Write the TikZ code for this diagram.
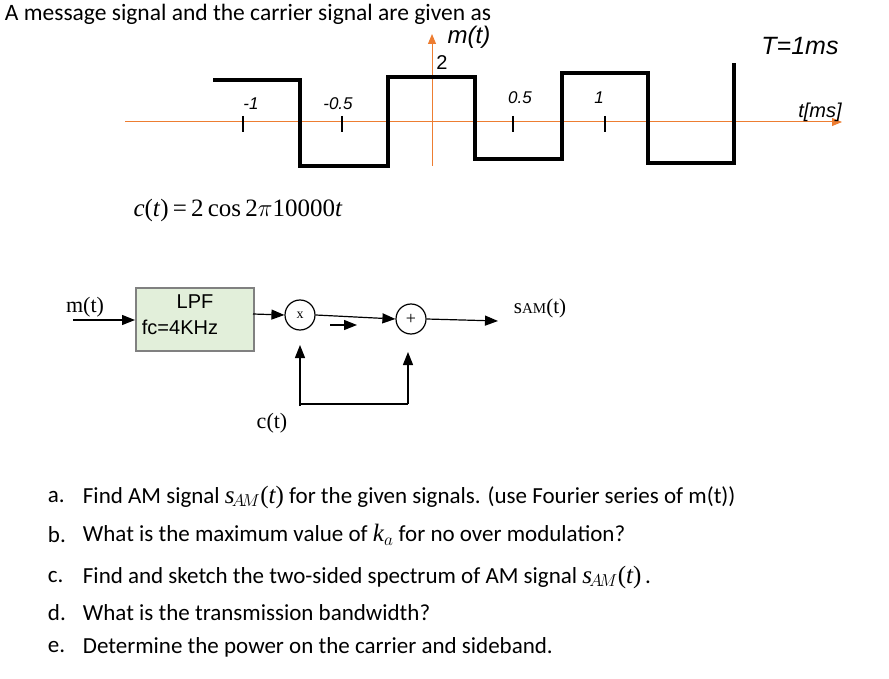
\documentclass[tikz,border=0pt]{standalone}
\usepackage{fontspec}
\setmainfont{Carlito}
\newfontfamily\tms{Liberation Serif}
\newfontfamily\arl{Liberation Sans}
\usetikzlibrary{arrows.meta}
\definecolor{axc}{HTML}{ED7D31}
\definecolor{boxg}{HTML}{E2EFDA}
\newcommand{\fsz}[1]{\fontsize{#1}{#1}\selectfont}
\newcommand{\sam}{{\tms\itshape\fsz{25}s$_{\!\fsz{16}A\!M}$}{\tms\fsz{25}(}{\tms\itshape\fsz{25}t}{\tms\fsz{25})}}
\begin{document}
\begin{tikzpicture}[x=1pt,y=-1pt,line width=1.2pt,
 sig/.style={line width=3.2pt},
 ar/.style={-{Triangle[length=13pt,width=10pt]}},
 sum/.style={circle,draw,line width=1.2pt,minimum size=30pt,inner sep=0pt,font=\tms\fsz{14}},
 q/.style={anchor=west,font=\fsz{23}},
 lab/.style={font=\arl\itshape\fsz{17}}]
\useasboundingbox (0,0) rectangle (889,679);
\node[anchor=west,font=\fsz{23.5}] (title) at (1,14) {A message signal and the carrier signal are given as};
% axes
\coordinate (xa) at (125,122); \coordinate (xb) at (842,122);
\coordinate (ya) at (432,166); \coordinate (yb) at (432,34);
\draw[axc,line width=1pt,-{Triangle[length=10pt,width=8pt]}] (xa) -- (xb);
\draw[axc,line width=1pt,-{Triangle[length=10pt,width=8pt]}] (ya) -- (yb);
\node[lab,font=\arl\itshape\fsz{24}] (mt) at (469,37) {m(t)};
\node[lab,font=\arl\fsz{20}] (two) at (442,63) {2};
\node[lab,font=\arl\itshape\fsz{25}] (T) at (800,46) {T=1ms};
\node[lab,font=\arl\itshape\fsz{20}] (tms) at (820,112) {t[ms]};
\draw[sig] (213,80) -- (300,80) -- (300,166) -- (388,166) -- (388,77) -- (475,77) -- (475,159) -- (562,159) -- (562,73) -- (648,73) -- (648,163) -- (734,163) -- (734,63);
\foreach \x in {243,342,513,605}{\draw (\x,116) -- (\x,132);}
\node[lab] (l1) at (251,104) {-1};
\node[lab] (l2) at (338,104) {-0.5};
\node[lab] (l3) at (520,98) {0.5};
\node[lab] (l4) at (599,98) {1};
\node[font=\tms\fsz{25}] (ct) at (238,210) {{\itshape c}(\textit{t})\,=\,2\,cos\,2$\pi$10000\textit{t}};
% block diagram
\node[font=\tms\fsz{22}] (min) at (85,307) {m(t)};
\coordinate (in) at (73,320);
\node[draw=gray,line width=1.5pt,fill=boxg,minimum width=118pt,minimum height=63pt,anchor=north west] (lpf) at (135,287) {};
\node[font=\arl\fsz{20}] (lpft) at (195,302) {LPF};
\node[font=\arl\fsz{20}] (fc) at (180,327) {fc=4KHz};
\node[sum] (mul) at (300,315) {x};
\node[sum,font=\tms\fsz{18}] (add) at (411,319) {+};
\draw[ar] (in) -- (in -| lpf.west);
\draw[ar] (253,314) -- (mul.west);
\draw[ar] (mul.east) -- (add.west);
\coordinate (sa) at (330,325); \coordinate (sb) at (357,325);
\draw[ar] (sa) -- (sb);
\coordinate (out) at (498,321);
\draw[ar] (add.east) -- (out);
\node[font=\tms\fsz{21}] (sam) at (540,308) {s{\fsz{15}AM}(t)};
\coordinate (f1) at (300,406); \coordinate (f2) at (408,404);
\draw[ar] (f1) -- (300,345);
\draw (300,404) -- (f2);
\draw[ar] (f2) -- (408,352);
\node[font=\tms\fsz{22}] (cl) at (272,423) {c(t)};
% questions
\foreach \y/\l in {497/a.,535/b.,577/c.,613/d.,647/e.}{\node[q] at (44,\y) {\l};}
\node[q] (qa) at (79,497) {Find AM signal \sam\ for the given signals. (use Fourier series of m(t))};
\node[q] (qb) at (79,535) {What is the maximum value of {\tms\itshape\fsz{25}k$_{\fsz{16}a}$} for no over modulation?};
\node[q] (qc) at (79,577) {Find and sketch the two-sided spectrum of AM signal \sam\,.};
\node[q] (qd) at (79,613) {What is the transmission bandwidth?};
\node[q] (qe) at (79,647) {Determine the power on the carrier and sideband.};
\end{tikzpicture}
\end{document}
